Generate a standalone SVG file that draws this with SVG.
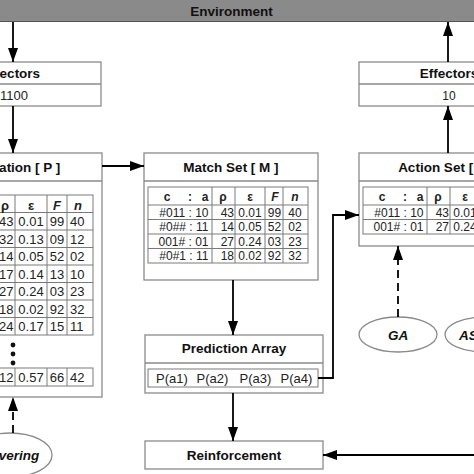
<svg xmlns="http://www.w3.org/2000/svg" width="474" height="474" viewBox="0 0 474 474">
<defs>
<style>
.box{fill:#fff;stroke:#8a8a8a;stroke-width:1.3}
.tbl{fill:none;stroke:#7a7a7a;stroke-width:1}
.hdr{font-family:'Liberation Sans',Arial,sans-serif;font-weight:bold;font-size:13.5px;text-anchor:middle;fill:#111}
.c12{font-family:'Liberation Sans',Arial,sans-serif;font-size:12px;text-anchor:middle;fill:#222}
.c13{font-family:'Liberation Sans',Arial,sans-serif;font-size:13px;text-anchor:middle;fill:#222}
.th{font-weight:bold}
.ti{font-weight:bold;font-style:italic}
.end{text-anchor:end}
.st{text-anchor:start}
.ell{fill:#fff;stroke:#8a8a8a;stroke-width:1.3}
.conn{stroke:#000;stroke-width:1.8;fill:none}
.dash{stroke-dasharray:8 5}
</style>
<marker id="ah" markerUnits="userSpaceOnUse" markerWidth="14" markerHeight="10" refX="14" refY="5" orient="auto">
<path d="M0,0 L14,5 L0,10 z" fill="#000"/>
</marker>
</defs>

<g id="environment">
<rect x="-1" y="-1" width="476" height="22.5" fill="#8a8a8a" stroke="#555" stroke-width="1"/>
<text class="hdr" x="231.5" y="16">Environment</text>
</g>

<g id="detectors">
<rect class="box" x="-82" y="62" width="183" height="44"/>
<line class="box" x1="-82" y1="84" x2="101" y2="84"/>
<text class="hdr" x="9" y="78">Detectors</text>
<text class="c13" x="14" y="99.5">1100</text>
</g>

<g id="effectors">
<rect class="box" x="359" y="62" width="180" height="44"/>
<line class="box" x1="359" y1="84" x2="539" y2="84"/>
<text class="hdr" x="449" y="78">Effectors</text>
<text class="c12" x="449" y="99.5">10</text>
</g>

<g id="population">
<rect class="box" x="-72" y="153" width="174" height="244"/>
<line class="box" x1="-72" y1="181" x2="102" y2="181"/>
<text class="hdr" x="11" y="171.5">Population [ P ]</text>
<rect class="tbl" x="-70" y="195" width="163" height="140"/>
<path class="tbl" d="M-70,212.5H93M-70,230H93M-70,247.5H93M-70,265H93M-70,282.5H93M-70,300H93M-70,317.5H93M-10,195V335M15,195V335M47,195V335M67,195V335"/>
<g class="c13">
<text class="th" x="5" y="209.5">ρ</text><text class="th" x="31" y="209.5">ε</text><text class="ti" x="57" y="209.5">F</text><text class="ti" x="78" y="209.5">n</text>
<text class="end" x="13.5" y="226">43</text><text x="31" y="226">0.01</text><text x="57" y="226">99</text><text class="st" x="70" y="226">40</text>
<text class="end" x="13.5" y="243.5">32</text><text x="31" y="243.5">0.13</text><text x="57" y="243.5">09</text><text class="st" x="70" y="243.5">12</text>
<text class="end" x="13.5" y="261">14</text><text x="31" y="261">0.05</text><text x="57" y="261">52</text><text class="st" x="70" y="261">02</text>
<text class="end" x="13.5" y="278.5">17</text><text x="31" y="278.5">0.14</text><text x="57" y="278.5">13</text><text class="st" x="70" y="278.5">10</text>
<text class="end" x="13.5" y="296">27</text><text x="31" y="296">0.24</text><text x="57" y="296">03</text><text class="st" x="70" y="296">23</text>
<text class="end" x="13.5" y="313.5">18</text><text x="31" y="313.5">0.02</text><text x="57" y="313.5">92</text><text class="st" x="70" y="313.5">32</text>
<text class="end" x="13.5" y="331">24</text><text x="31" y="331">0.17</text><text x="57" y="331">15</text><text class="st" x="70" y="331">11</text>
</g>
<circle cx="13" cy="345" r="2.4" fill="#111"/>
<circle cx="13" cy="354" r="2.4" fill="#111"/>
<circle cx="13" cy="363" r="2.4" fill="#111"/>
<rect class="tbl" x="-70" y="368" width="163" height="18"/>
<path class="tbl" d="M-10,368V386M15,368V386M47,368V386M67,368V386"/>
<g class="c13">
<text class="end" x="13.5" y="382">12</text><text x="31" y="382">0.57</text><text x="57" y="382">66</text><text class="st" x="70" y="382">42</text>
</g>
</g>

<g id="match-set">
<rect class="box" x="144" y="153" width="174" height="127"/>
<line class="box" x1="144" y1="181" x2="318" y2="181"/>
<text class="hdr" x="231" y="171.5">Match Set [ M ]</text>
<rect class="tbl" x="148" y="187" width="160" height="76"/>
<path class="tbl" d="M148,205H308M148,219.5H308M148,234H308M148,248.5H308M212,187V263M235,187V263M265,187V263M283,187V263"/>
<g class="c12">
<text class="th" x="167" y="200.5">c</text><text class="th" x="190" y="200.5">:</text><text class="th" x="205" y="200.5">a</text>
<text class="th" x="223" y="200.5">ρ</text><text class="th" x="250" y="200.5">ε</text><text class="ti" x="275" y="200.5">F</text><text class="ti" x="295" y="200.5">n</text>
<text class="end" x="208.5" y="216.6">#011 : 10</text><text class="end" x="234" y="216.6">43</text><text x="250" y="216.6">0.01</text><text x="274.5" y="216.6">99</text><text x="295" y="216.6">40</text>
<text class="end" x="208.5" y="231.1">#0## : 11</text><text class="end" x="234" y="231.1">14</text><text x="250" y="231.1">0.05</text><text x="274.5" y="231.1">52</text><text x="295" y="231.1">02</text>
<text class="end" x="208.5" y="245.6">001# : 01</text><text class="end" x="234" y="245.6">27</text><text x="250" y="245.6">0.24</text><text x="274.5" y="245.6">03</text><text x="295" y="245.6">23</text>
<text class="end" x="208.5" y="260.1">#0#1 : 11</text><text class="end" x="234" y="260.1">18</text><text x="250" y="260.1">0.02</text><text x="274.5" y="260.1">92</text><text x="295" y="260.1">32</text>
</g>
</g>

<g id="action-set">
<rect class="box" x="359" y="153" width="174" height="93"/>
<line class="box" x1="359" y1="181" x2="533" y2="181"/>
<text class="hdr" x="446" y="171.5">Action Set [ A ]</text>
<rect class="tbl" x="363" y="187" width="160" height="47"/>
<path class="tbl" d="M363,205H523M363,219.5H523M427,187V234M450,187V234M480,187V234M498,187V234"/>
<g class="c12">
<text class="th" x="382" y="200.5">c</text><text class="th" x="405" y="200.5">:</text><text class="th" x="420" y="200.5">a</text>
<text class="th" x="438" y="200.5">ρ</text><text class="th" x="465" y="200.5">ε</text>
<text class="end" x="423.5" y="216.6">#011 : 10</text><text class="end" x="449" y="216.6">43</text><text x="465" y="216.6">0.01</text>
<text class="end" x="423.5" y="231.1">001# : 01</text><text class="end" x="449" y="231.1">27</text><text x="465" y="231.1">0.24</text>
</g>
</g>

<g id="prediction-array">
<rect class="box" x="145" y="335" width="178" height="58"/>
<line class="box" x1="145" y1="363" x2="323" y2="363"/>
<text class="hdr" x="234" y="352.7">Prediction Array</text>
<rect class="tbl" x="148" y="369" width="170" height="18"/>
<g class="c13">
<text x="172" y="382.7">P(a1)</text><text x="212.5" y="382.7">P(a2)</text><text x="255.5" y="382.7">P(a3)</text><text x="296.5" y="382.7">P(a4)</text>
</g>
</g>

<g id="reinforcement">
<rect class="box" x="145" y="441" width="178" height="28"/>
<text class="hdr" x="234" y="460">Reinforcement</text>
</g>

<g id="ga">
<ellipse class="ell" cx="398" cy="334.5" rx="39" ry="17.5"/>
<text class="hdr ti" x="398" y="339.5">GA</text>
</g>

<g id="as">
<ellipse class="ell" cx="484" cy="334.5" rx="39" ry="17.5"/>
<text class="hdr ti" x="459" y="339.5" style="text-anchor:start">AS</text>
</g>

<g id="covering">
<ellipse class="ell" cx="10" cy="455" rx="42" ry="22"/>
<text class="hdr ti" x="10" y="460">Covering</text>
</g>

<g id="connectors">
<line class="conn" x1="13" y1="22" x2="13" y2="62" marker-end="url(#ah)"/>
<line class="conn" x1="13" y1="106" x2="13" y2="153" marker-end="url(#ah)"/>
<line class="conn" x1="102" y1="166" x2="144" y2="166" marker-end="url(#ah)"/>
<line class="conn" x1="233" y1="280" x2="233" y2="335" marker-end="url(#ah)"/>
<line class="conn" x1="233" y1="393" x2="233" y2="441" marker-end="url(#ah)"/>
<path class="conn" d="M318,378H333V215H359" marker-end="url(#ah)"/>
<line class="conn" x1="448" y1="153" x2="448" y2="106" marker-end="url(#ah)"/>
<line class="conn" x1="448" y1="62" x2="448" y2="22" marker-end="url(#ah)"/>
<line class="conn" x1="476" y1="455" x2="323" y2="455" marker-end="url(#ah)"/>
<line class="conn dash" x1="13" y1="433" x2="13" y2="397" marker-end="url(#ah)"/>
<line class="conn dash" x1="398" y1="317" x2="398" y2="246" marker-end="url(#ah)"/>
</g>
</svg>
